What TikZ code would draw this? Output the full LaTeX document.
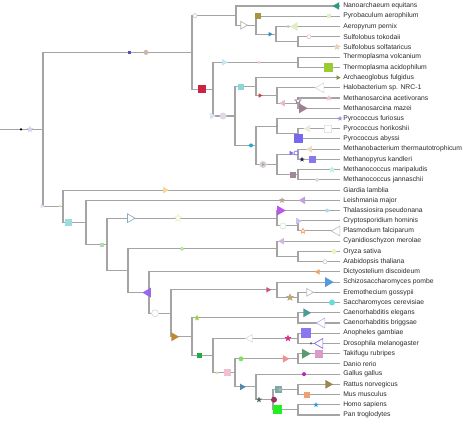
\documentclass[tikz,border=0pt]{standalone}
\usepackage{fontspec}
\setmainfont{Liberation Sans}
\usetikzlibrary{shapes.geometric}
\newcounter{mkc}
\newcommand{\mk}[3]{\stepcounter{mkc}\node[#3] (mk\themkc) at (#1,#2) {};}
\definecolor{lnc}{HTML}{A4A4A4}
\definecolor{txc}{HTML}{2A2A2A}
\definecolor{crim}{HTML}{CC2244}
\definecolor{olv}{HTML}{A8943C}
\definecolor{teal1}{HTML}{2A9A80}
\definecolor{ygrn}{HTML}{99CC33}
\definecolor{bpur}{HTML}{7766EE}
\definecolor{bpur2}{HTML}{8877EE}
\definecolor{mauve}{HTML}{A08898}
\definecolor{vio}{HTML}{BB55EE}
\definecolor{vio2}{HTML}{9966EE}
\definecolor{sky}{HTML}{5599DD}
\definecolor{brn}{HTML}{C08830}
\definecolor{tealb}{HTML}{4A9A9A}
\definecolor{fgrn}{HTML}{5A9A70}
\definecolor{pnk}{HTML}{DD99CC}
\definecolor{mag}{HTML}{BB22BB}
\definecolor{olb}{HTML}{998855}
\definecolor{orng}{HTML}{F0A070}
\definecolor{lime}{HTML}{22EE22}
\definecolor{hblue}{HTML}{2299DD}
\definecolor{maroon}{HTML}{993366}
\definecolor{dgst}{HTML}{556666}
\definecolor{tsq}{HTML}{77AAAA}
\definecolor{bgt}{HTML}{5588AA}
\definecolor{lgc}{HTML}{88DD66}
\definecolor{salm}{HTML}{F09090}
\definecolor{hpink}{HTML}{DD3388}
\definecolor{dgrn}{HTML}{22AA44}
\definecolor{gstar}{HTML}{99CC44}
\definecolor{tanst}{HTML}{BBAA77}
\definecolor{prd}{HTML}{CC5577}
\definecolor{cyc}{HTML}{66DDDD}
\definecolor{orgt}{HTML}{F0A060}
\definecolor{lav}{HTML}{D0B8E0}
\definecolor{lav2}{HTML}{C0A0E0}
\definecolor{lav3}{HTML}{D0C0F0}
\definecolor{pyel}{HTML}{F0F0C0}
\definecolor{lgr}{HTML}{D0EED8}
\definecolor{lcy}{HTML}{AADDEE}
\definecolor{cysq}{HTML}{99DDDD}
\definecolor{ytri}{HTML}{F8D890}
\definecolor{mst}{HTML}{C0A0A0}
\definecolor{lgsq}{HTML}{B0DDB0}
\definecolor{cyd}{HTML}{22AACC}
\definecolor{gcir}{HTML}{D8D0D0}
\definecolor{tant}{HTML}{F0D8B8}
\definecolor{navy}{HTML}{222255}
\definecolor{lcst}{HTML}{C0F0E0}
\definecolor{pst}{HTML}{AA88DD}
\definecolor{cream}{HTML}{F0E8D8}
\definecolor{mtri}{HTML}{A08090}
\definecolor{ptri}{HTML}{E8B8C8}
\definecolor{lpst}{HTML}{F0C0D0}
\definecolor{rtri}{HTML}{CC4444}
\definecolor{lavb}{HTML}{D8E4F8}
\definecolor{lavc}{HTML}{E0D8E8}
\definecolor{cysq2}{HTML}{88D8D8}
\definecolor{lctri}{HTML}{C0E8F0}
\definecolor{agt}{HTML}{888844}
\definecolor{ygt}{HTML}{E0EEC0}
\definecolor{tanst2}{HTML}{E8D0B0}
\definecolor{smb}{HTML}{3388CC}
\definecolor{sqb}{HTML}{5050C0}
\definecolor{tcir}{HTML}{C8B8B0}
\definecolor{lstar}{HTML}{D8D0F0}
\begin{document}
\begin{tikzpicture}[x=0.75pt,y=-0.75pt,
  br/.style={draw=lnc, line width=0.8pt},
  lab/.style={anchor=west, inner sep=0pt, font=\fontsize{5.1}{6}\selectfont, text=txc},
  sq/.style={rectangle, inner sep=0pt, outer sep=0pt, minimum size={0.75pt*#1}},
  ci/.style={circle, inner sep=0pt, outer sep=0pt, minimum size={0.75pt*#1}},
  tr/.style={regular polygon, regular polygon sides=3, shape border rotate=-90, inner sep=0pt, outer sep=0pt, minimum size={0.95pt*#1}},
  tl/.style={regular polygon, regular polygon sides=3, shape border rotate=90, inner sep=0pt, outer sep=0pt, minimum size={0.95pt*#1}},
  st/.style={star, star points=5, star point ratio=2.3, inner sep=0pt, outer sep=0pt, minimum size={0.8pt*#1}},
  wo/.style={fill=white, draw=#1, line width=0.5pt}]
\useasboundingbox (0,0) rectangle (474,422);
% leaves
\foreach \i/\n in {0/{Nanoarchaeum equitans},1/{Pyrobaculum aerophilum},2/{Aeropyrum pernix},3/{Sulfolobus tokodaii},4/{Sulfolobus solfataricus},5/{Thermoplasma volcanium},6/{Thermoplasma acidophilum},7/{Archaeoglobus fulgidus},8/{Halobacterium sp. NRC-1},9/{Methanosarcina acetivorans},10/{Methanosarcina mazei},11/{Pyrococcus furiosus},12/{Pyrococcus horikoshii},13/{Pyrococcus abyssi},14/{Methanobacterium thermautotrophicum},15/{Methanopyrus kandleri},16/{Methanococcus maripaludis},17/{Methanococcus jannaschii},18/{Giardia lamblia},19/{Leishmania major},20/{Thalassiosira pseudonana},21/{Cryptosporidium hominis},22/{Plasmodium falciparum},23/{Cyanidioschyzon merolae},24/{Oryza sativa},25/{Arabidopsis thaliana},26/{Dictyostelium discoideum},27/{Schizosaccharomyces pombe},28/{Eremothecium gossypii},29/{Saccharomyces cerevisiae},30/{Caenorhabditis elegans},31/{Caenorhabditis briggsae},32/{Anopheles gambiae},33/{Drosophila melanogaster},34/{Takifugu rubripes},35/{Danio rerio},36/{Gallus gallus},37/{Rattus norvegicus},38/{Mus musculus},39/{Homo sapiens},40/{Pan troglodytes}}{
  \pgfmathsetmacro\yy{6+10.225*\i}
  \coordinate (e\i) at (340,\yy);
  \node[lab] (t\i) at (343,\yy) {\n};
}
% internal nodes: archaea
\coordinate (sul) at (298,41.8);
\coordinate (aero) at (276,34.2);
\coordinate (pyro) at (256,25.2);
\coordinate (cren) at (236,15.6);
\coordinate (thermo) at (298,62.3);
\coordinate (msar) at (298,103.2);
\coordinate (halo) at (277,95.5);
\coordinate (agl) at (256,86.6);
\coordinate (pha) at (298,133.8);
\coordinate (pyg) at (277,126.2);
\coordinate (mbmp) at (298,154.3);
\coordinate (mcoc) at (298,174.7);
\coordinate (meth) at (277,164.5);
\coordinate (pm) at (256,145.4);
\coordinate (ap) at (235,116.0);
\coordinate (eury) at (213,89.2);
\coordinate (arch) at (192,52.4);
% eukaryotes
\coordinate (crpl) at (298,225.9);
\coordinate (thal) at (277,218.2);
\coordinate (plants) at (298,256.5);
\coordinate (cyan) at (277,248.9);
\coordinate (yeast) at (298,297.4);
\coordinate (fungi) at (277,289.8);
\coordinate (nema) at (298,317.9);
\coordinate (insect) at (298,338.3);
\coordinate (fish) at (298,358.8);
\coordinate (rodent) at (298,389.5);
\coordinate (primate) at (298,409.9);
\coordinate (mammal) at (273,399.7);
\coordinate (amniote) at (256,386.9);
\coordinate (vert) at (235,372.9);
\coordinate (bila) at (213,355.6);
\coordinate (anim) at (192,336.8);
\coordinate (opis) at (171,313.3);
\coordinate (dicty) at (149,292.6);
\coordinate (plp) at (128,270.8);
\coordinate (xa) at (107,244.5);
\coordinate (xb) at (86,222.4);
\coordinate (euk) at (63,206.2);
\coordinate (root) at (43,129.3);
\coordinate (stem) at (0,129.3);
% branches
\draw[br] (stem) -- (root)
  (root) |- (arch) (root) |- (euk)
  (arch) |- (cren) (arch) |- (eury)
  (cren) |- (e0) (cren) |- (pyro)
  (pyro) |- (e1) (pyro) |- (aero)
  (aero) |- (e2) (aero) |- (sul)
  (sul) |- (e3) (sul) |- (e4)
  (eury) |- (thermo) (eury) |- (ap)
  (thermo) |- (e5) (thermo) |- (e6)
  (ap) |- (agl) (ap) |- (pm)
  (agl) |- (e7) (agl) |- (halo)
  (halo) |- (e8) (halo) |- (msar)
  (msar) |- (e9) (msar) |- (e10)
  (pm) |- (pyg) (pm) |- (meth)
  (pyg) |- (e11) (pyg) |- (pha)
  (pha) |- (e12) (pha) |- (e13)
  (meth) |- (mbmp) (meth) |- (mcoc)
  (mbmp) |- (e14) (mbmp) |- (e15)
  (mcoc) |- (e16) (mcoc) |- (e17)
  (euk) |- (e18) (euk) |- (xb)
  (xb) |- (e19) (xb) |- (xa)
  (xa) |- (thal) (xa) |- (plp)
  (thal) |- (e20) (thal) |- (crpl)
  (crpl) |- (e21) (crpl) |- (e22)
  (plp) |- (cyan) (plp) |- (dicty)
  (cyan) |- (e23) (cyan) |- (plants)
  (plants) |- (e24) (plants) |- (e25)
  (dicty) |- (e26) (dicty) |- (opis)
  (opis) |- (fungi) (opis) |- (anim)
  (fungi) |- (e27) (fungi) |- (yeast)
  (yeast) |- (e28) (yeast) |- (e29)
  (anim) |- (nema) (anim) |- (bila)
  (nema) |- (e30) (nema) |- (e31)
  (bila) |- (insect) (bila) |- (vert)
  (insect) |- (e32) (insect) |- (e33)
  (vert) |- (fish) (vert) |- (amniote)
  (fish) |- (e34) (fish) |- (e35)
  (amniote) |- (e36) (amniote) |- (mammal)
  (mammal) |- (rodent) (mammal) |- (primate)
  (rodent) |- (e37) (rodent) |- (e38)
  (primate) |- (e39) (primate) |- (e40);
% markers: root & archaea
\mk{21}{129.3}{ci=2.5, fill=black}
\mk{30}{129.3}{st=7, fill=lstar}
\mk{129}{52.4}{sq=3, fill=sqb}
\mk{146}{52.4}{ci=5, fill=tcir}
\mk{195}{15.6}{ci=4, wo=gray!40}
\mk{243}{25.2}{tr=7, wo=gray!60}
\mk{258}{16.2}{sq=6, fill=olv}
\mk{329}{16.2}{sq=4, fill=ygt}
\mk{337}{6}{tl=7, fill=teal1}
\mk{270}{34.2}{tr=4, fill=smb}
\mk{288}{26.5}{ci=3, fill=gray!50}
\mk{295}{26.5}{tl=8, fill=ygt}
\mk{309}{36.7}{ci=4, wo=lpst}
\mk{337}{46.9}{st=7, fill=tanst2}
\mk{224}{62.3}{tr=6, fill=lctri}
\mk{259}{62.3}{ci=3, fill=lpst}
\mk{328}{67.4}{sq=9, fill=ygrn}
\mk{338}{77.6}{tr=4, fill=agt}
\mk{321}{87.8}{tl=9, wo=gray!30}
\mk{329}{98}{st=6, fill=lpst}
\mk{283}{103.2}{tl=6, fill=ptri}
\mk{298}{101}{st=6, wo=mtri}
\mk{302}{108.3}{tr=9, fill=mtri}
\mk{260}{95.5}{tr=4, fill=rtri}
\mk{202}{89.2}{sq=8, fill=crim}
\mk{212}{116}{tr=6, fill=lavb}
\mk{223}{116}{ci=7, fill=lavc}
\mk{241}{86.6}{sq=6, fill=cysq2}
\mk{251}{145.4}{ci=4, fill=cyd}
\mk{340}{118.5}{st=5, fill=pst}
\mk{277}{126.2}{ci=2, fill=gray!80}
\mk{308}{128.7}{tl=7, fill=cream}
\mk{328}{128.7}{sq=7, wo=gray!20}
\mk{298}{138.5}{sq=9, fill=bpur}
\mk{263}{164.5}{ci=7, fill=gcir}
\mk{263}{164.5}{tr=3, fill=gray!70}
\mk{310}{149.2}{tl=6, fill=tant}
\mk{291}{153}{tr=4, fill=bpur}
\mk{296}{153}{ci=4, wo=bpur}
\mk{302}{159.4}{st=5, fill=navy}
\mk{312}{159.4}{sq=7, fill=bpur2}
\mk{293}{174.7}{sq=6, fill=mauve}
\mk{332}{169.6}{st=7, fill=lcst}
\mk{317}{179.8}{ci=3, wo=gray!40}
% markers: eukaryotes
\mk{42}{206.2}{tr=4, fill=lavb}
\mk{60}{206.2}{ci=3, fill=tant}
\mk{165}{190.1}{tr=6, fill=ytri}
\mk{68}{222.4}{sq=7, fill=cysq}
\mk{282}{200.3}{st=6, fill=mst}
\mk{303}{200.3}{tl=7, fill=lav2}
\mk{130}{218.2}{tr=8, wo=bgt!70}
\mk{178}{218.2}{st=7, wo=pyel}
\mk{102}{244.5}{sq=4, fill=lgsq}
\mk{280}{210.5}{tr=9, fill=vio}
\mk{327}{210.5}{ci=4, fill=lcy}
\mk{298}{221}{tr=6, fill=lav3}
\mk{283}{225.9}{ci=6, wo=lgr}
\mk{303}{231}{st=5, wo=orng}
\mk{337}{231}{tl=9, wo=gray!50}
\mk{182}{248.9}{ci=3, wo=lgc}
\mk{282}{241.2}{tl=6, fill=lav}
\mk{334}{251.4}{ci=5, fill=pyel}
\mk{325}{261.6}{ci=4, wo=gray!40}
\mk{318}{271.9}{tl=5, fill=orgt}
\mk{148}{292.6}{tl=9, fill=vio2}
\mk{155}{313.3}{ci=7, wo=gray!30}
\mk{268}{289.8}{tr=5, fill=prd}
\mk{328}{282.1}{tr=9, fill=sky}
\mk{290}{297.4}{st=8, fill=tanst}
\mk{309}{292.3}{tr=7, wo=gray!50}
\mk{332}{302.5}{ci=6, fill=cyc}
\mk{174}{336.8}{tr=8, fill=brn}
\mk{197}{317.9}{st=6, fill=gstar}
\mk{306}{312.8}{tr=8, fill=tealb}
\mk{322}{323}{tl=9, wo=bpur!50}
\mk{199}{355.6}{sq=5, fill=dgrn}
\mk{250}{338.3}{tl=7, wo=lavc}
\mk{288}{338.3}{st=7, fill=hpink}
\mk{306}{333.2}{sq=10, fill=bpur2}
\mk{311}{343.4}{ci=2.5, fill=gray!80!black}
\mk{320}{343.4}{tl=9, wo=bpur}
\mk{217}{372.9}{ci=3, fill=lgc!60}
\mk{227}{372.9}{sq=7, fill=lpst}
\mk{241}{358.8}{ci=5, fill=lgc}
\mk{285}{358.8}{tr=7, fill=salm}
\mk{305}{353.7}{tr=9, fill=fgrn}
\mk{319}{353.7}{sq=8, fill=pnk}
\mk{242}{386.9}{tr=6, fill=bgt}
\mk{304}{374.1}{ci=4, fill=mag}
\mk{259}{399.7}{st=6, fill=dgst}
\mk{274}{399.7}{ci=6, fill=maroon}
\mk{278}{389.5}{sq=7, fill=tsq}
\mk{280}{389.5}{st=5, fill=gray!60}
\mk{328}{384.3}{tr=8, fill=olb}
\mk{307}{394.6}{sq=6, fill=orng}
\mk{277}{409.9}{sq=9, fill=lime}
\mk{316}{404.8}{st=5, fill=hblue}
\end{tikzpicture}
\end{document}
